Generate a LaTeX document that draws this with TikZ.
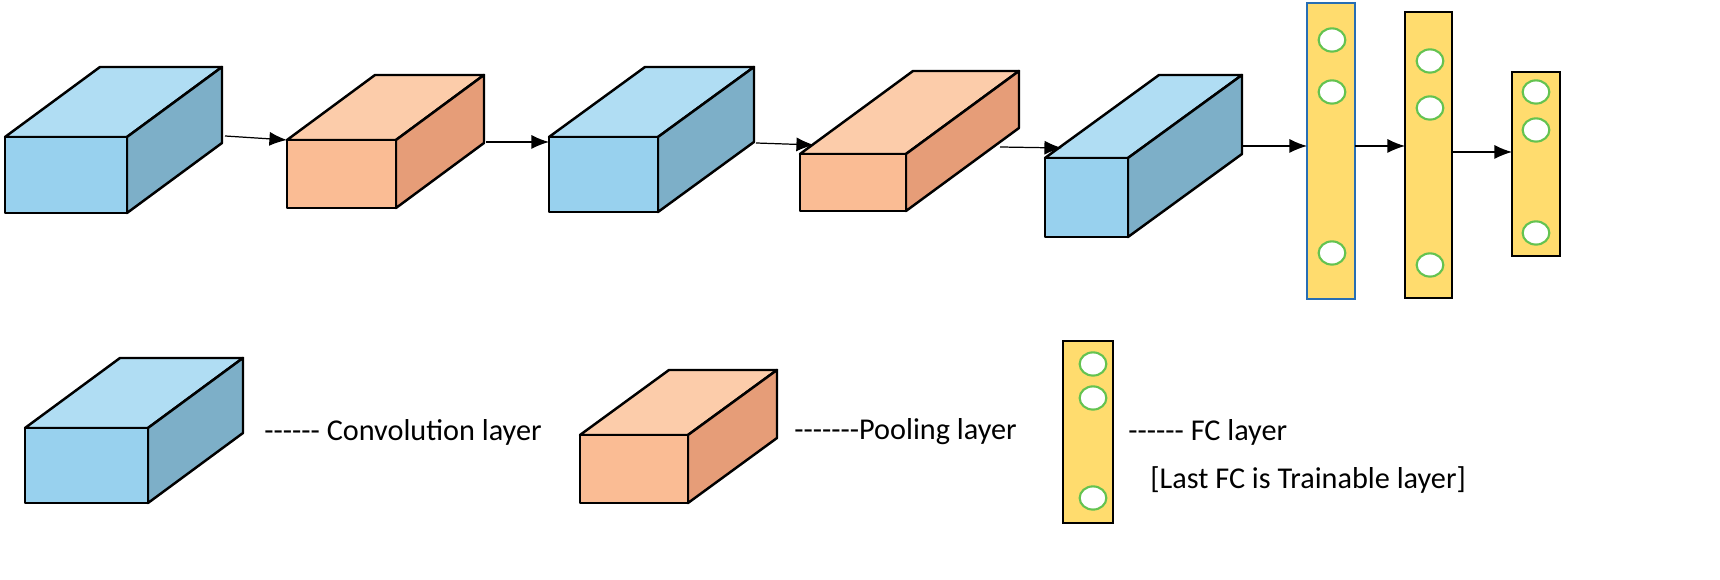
\documentclass[tikz,border=0pt]{standalone}
\usepackage{fontspec}
\setmainfont{Carlito}
\usetikzlibrary{arrows.meta,shapes.geometric}

\definecolor{convF}{RGB}{152,209,238}
\definecolor{convT}{RGB}{176,221,243}
\definecolor{convS}{RGB}{125,175,200}
\definecolor{poolF}{RGB}{250,188,148}
\definecolor{poolT}{RGB}{252,204,170}
\definecolor{poolS}{RGB}{230,157,120}
\definecolor{fcFill}{RGB}{255,220,110}
\definecolor{fcBlue}{RGB}{40,110,180}
\definecolor{unitGreen}{RGB}{100,195,80}

% cuboid: name, x, y (front top-left), width, height, depth x, depth y, colour prefix
\newcommand{\cuboid}[8]{
    \draw[edge, fill=#8T] (#2,#3) -- ++(#4,0) -- ++(#6,-#7) -- ++(-#4,0) -- cycle;
    \draw[edge, fill=#8S] (#2+#4,#3) -- ++(#6,-#7) -- ++(0,#5) -- ++(-#6,#7) -- cycle;
    \draw[edge, fill=#8F] (#2,#3) rectangle ++(#4,#5);
    \coordinate (#1) at (#2,#3);
}

\tikzset{
    edge/.style={line width=0.7pt, line join=round},
    flow/.style={-{Latex[length=5pt,width=4pt]}, line width=0.35pt},
    unit/.style={draw=unitGreen, line width=0.6pt, fill=white, ellipse, minimum width=7.6pt, minimum height=6.6pt, inner sep=0pt},
    fc/.style={draw, line width=0.7pt, fill=fcFill},
    legend/.style={anchor=west, font=\fontsize{8.6}{10}\selectfont}
}

\begin{document}
\begin{tikzpicture}[x=0.01cm, y=-0.01cm]

    \useasboundingbox (0,0) rectangle (1720,580);

    % feature extraction
    \cuboid{conv1}{5}{137}{122}{76}{95}{70}{conv}
    \cuboid{pool1}{287}{140}{109}{68}{88}{65}{pool}
    \cuboid{conv2}{549}{137}{109}{75}{96}{70}{conv}
    \cuboid{pool2}{800}{154}{106}{57}{113}{83}{pool}
    \cuboid{conv3}{1045}{158}{83}{79}{114}{83}{conv}

    % fully connected
    \draw[fc, draw=fcBlue] (1307,3) rectangle (1355,299);
    \draw[fc] (1405,12) rectangle (1452,298);
    \draw[fc] (1512,72) rectangle (1560,256);

    \node[unit] (u11) at (1332,40) {};
    \node[unit] (u12) at (1332,92) {};
    \node[unit] (u13) at (1332,253) {};
    \node[unit] (u21) at (1430,61) {};
    \node[unit] (u22) at (1430,108) {};
    \node[unit] (u23) at (1430,265) {};
    \node[unit] (u31) at (1536,92) {};
    \node[unit] (u32) at (1536,130) {};
    \node[unit] (u33) at (1536,233) {};

    \coordinate (a1s) at (225,136);  \coordinate (a1e) at (287,140);
    \coordinate (a2s) at (486,142);  \coordinate (a2e) at (549,142);
    \coordinate (a3s) at (756,143);  \coordinate (a3e) at (814,145);
    \coordinate (a4s) at (1000,147); \coordinate (a4e) at (1062,148);
    \coordinate (a5s) at (1243,146); \coordinate (a5e) at (1307,146);
    \coordinate (a6s) at (1355,146); \coordinate (a6e) at (1405,146);
    \coordinate (a7s) at (1452,152); \coordinate (a7e) at (1512,152);

    \foreach \i in {1,...,7}
        \draw[flow] (a\i s) -- (a\i e);

    % legend
    \cuboid{convkey}{25}{428}{123}{75}{95}{70}{conv}
    \cuboid{poolkey}{580}{435}{108}{68}{89}{65}{pool}
    \draw[fc] (1063,341) rectangle (1113,523);
    \node[unit] (k1) at (1093,364) {};
    \node[unit] (k2) at (1093,398) {};
    \node[unit] (k3) at (1093,498) {};

    \node[legend] (convtext) at (252,432) {-{}-{}-{}-{}-{}- Convolution layer};
    \node[legend] (pooltext) at (782,432) {-{}-{}-{}-{}-{}-{}-Pooling layer};
    \node[legend] (fctext) at (1116,432) {-{}-{}-{}-{}-{}- FC layer};
    \node[legend] (lasttext) at (1138,480) {[Last FC is Trainable layer]};

\end{tikzpicture}
\end{document}
